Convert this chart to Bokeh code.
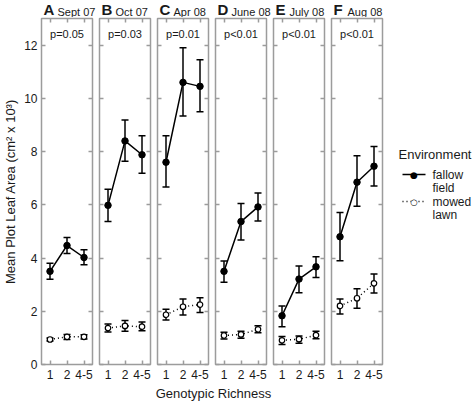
from bokeh.plotting import figure
from bokeh.models import (FactorRange, Range1d, FixedTicker, LinearAxis, CategoricalAxis,
                          ColumnDataSource, Whisker, TeeHead, Label, Arrow)
from bokeh.layouts import row, column
from bokeh.embed import file_html
from bokeh.resources import INLINE

# ---------------- data ----------------
panel_letters = ["A", "B", "C", "D", "E", "F"]
panel_dates = ["Sept 07", "Oct 07", "Apr 08", "June 08", "July 08", "Aug 08"]
p_values = ["p=0.05", "p=0.03", "p=0.01", "p<0.01", "p<0.01", "p<0.01"]
richness_labels = ["1", "2", "4-5"]
y_ticks = [0, 2, 4, 6, 8, 10, 12]
env_labels = [["fallow", "field"], ["mowed", "lawn"]]
legend_title = "Environment"
x_title = "Genotypic Richness"
y_title = "Mean Plot Leaf Area (cm\u00b2 x 10\u00b3)"

fallow_mean = [[3.50, 4.47, 4.02], [5.98, 8.40, 7.88], [7.60, 10.60, 10.45],
               [3.50, 5.37, 5.92], [1.83, 3.21, 3.67], [4.80, 6.85, 7.45]]
fallow_lower = [[3.20, 4.17, 3.75], [5.37, 7.64, 7.19], [6.67, 9.34, 9.50],
                [3.09, 4.68, 5.39], [1.42, 2.70, 3.27], [3.90, 5.95, 6.71]]
fallow_upper = [[3.80, 4.77, 4.31], [6.58, 9.19, 8.59], [8.59, 11.90, 11.45],
                [3.89, 6.05, 6.44], [2.20, 3.70, 4.05], [5.71, 7.84, 8.19]]
mowed_mean = [[0.94, 1.04, 1.04], [1.37, 1.45, 1.42], [1.87, 2.17, 2.25],
              [1.09, 1.13, 1.32], [0.91, 0.95, 1.10], [2.20, 2.49, 3.05]]
mowed_lower = [[0.88, 0.94, 0.96], [1.22, 1.25, 1.27], [1.67, 1.86, 1.95],
               [0.96, 0.99, 1.19], [0.75, 0.80, 0.97], [1.90, 2.11, 2.69]]
mowed_upper = [[1.00, 1.13, 1.12], [1.52, 1.65, 1.60], [2.08, 2.46, 2.51],
               [1.21, 1.25, 1.46], [1.05, 1.07, 1.25], [2.46, 2.85, 3.40]]

FONT = "Liberation Sans"
GRAY = "#9c9c9c"
TXT = "#1a1a1a"
FRAME_W, FRAME_H = 51, 346
LEFT0, GAP_L, GAP_R = 41, 4, 3
STRIP_H, TOP, BOTTOM = 17, 1, 20
PITCH = GAP_L + FRAME_W + GAP_R
ROW_W = LEFT0 + FRAME_W + GAP_R + 5 * PITCH
PANEL_H = TOP + FRAME_H + BOTTOM


def blank_fig(w, h):
    f = figure(x_range=Range1d(0, 1), y_range=Range1d(0, 1),
               frame_width=w, frame_height=h,
               min_border_left=0, min_border_right=0, min_border_top=0, min_border_bottom=0,
               x_axis_location=None, y_axis_location=None,
               output_backend="svg", toolbar_location=None)
    f.outline_line_color = None
    f.xgrid.visible = False
    f.ygrid.visible = False
    return f


def text(fig, x, y, s, size, color=TXT, font=FONT, style="normal",
         align="left", baseline="middle"):
    fig.add_layout(Label(x=x, y=y, x_units="screen", y_units="screen", text=s,
                         text_font=font, text_font_size=size, text_font_style=style,
                         text_color=color, text_align=align, text_baseline=baseline))


def style_axis(ax, show_labels):
    ax.axis_line_color = None
    ax.major_tick_line_color = GRAY
    ax.major_tick_line_width = 1.5
    ax.major_tick_in = 4
    ax.major_tick_out = 0
    ax.minor_tick_line_color = None
    ax.major_label_text_font = FONT
    ax.major_label_text_color = TXT
    if show_labels:
        ax.major_label_text_font_size = "12px"
        ax.major_label_standoff = 4
    else:
        ax.major_label_text_font_size = "0px"
        ax.major_label_text_alpha = 0
        ax.major_label_standoff = 0


def make_panel(i):
    first = i == 0
    p = figure(x_range=FactorRange(factors=richness_labels, range_padding=0),
               y_range=Range1d(0, 13),
               frame_width=FRAME_W, frame_height=FRAME_H,
               min_border_left=LEFT0 if first else GAP_L, min_border_right=GAP_R,
               min_border_top=TOP, min_border_bottom=BOTTOM,
               x_axis_location=None, y_axis_location=None,
               output_backend="svg", toolbar_location=None)
    p.xgrid.visible = False
    p.ygrid.visible = False
    p.outline_line_color = GRAY
    p.outline_line_width = 1.5

    below = CategoricalAxis()
    style_axis(below, True)
    below.major_label_standoff = 5
    p.add_layout(below, "below")
    above = CategoricalAxis()
    style_axis(above, False)
    p.add_layout(above, "above")
    left = LinearAxis(ticker=FixedTicker(ticks=y_ticks))
    style_axis(left, first)
    if first:
        left.axis_label = y_title
        left.axis_label_text_font = FONT
        left.axis_label_text_font_size = "13px"
        left.axis_label_text_font_style = "normal"
        left.axis_label_text_color = TXT
        left.axis_label_standoff = 3
    p.add_layout(left, "left")
    right = LinearAxis(ticker=FixedTicker(ticks=y_ticks))
    style_axis(right, False)
    p.add_layout(right, "right")

    src = ColumnDataSource(dict(x=richness_labels,
                                fm=fallow_mean[i], fl=fallow_lower[i], fu=fallow_upper[i],
                                mm=mowed_mean[i], ml=mowed_lower[i], mu=mowed_upper[i]))
    for lo, hi in (("fl", "fu"), ("ml", "mu")):
        w = Whisker(source=src, base="x", lower=lo, upper=hi,
                    line_color="black", line_width=1.5, level="underlay",
                    upper_head=TeeHead(size=7, line_width=1.5, line_color="black"),
                    lower_head=TeeHead(size=7, line_width=1.5, line_color="black"))
        p.add_layout(w)
    p.line("x", "fm", source=src, line_color="black", line_width=1.5)
    p.line("x", "mm", source=src, line_color="black", line_width=1.5, line_dash="1 3")
    p.scatter("x", "fm", source=src, marker="circle", size=6.5,
              fill_color="black", line_color="black")
    p.scatter("x", "mm", source=src, marker="circle", size=5.5,
              fill_color="white", line_color="black", line_width=1.2)

    text(p, FRAME_W / 2, FRAME_H - 15, p_values[i], "11px", align="center")
    return p


panels = [make_panel(i) for i in range(6)]

# ---------------- panel titles strip ----------------
strip = blank_fig(474, STRIP_H)
for i in range(6):
    frame_left = LEFT0 + i * PITCH
    text(strip, frame_left + 2, 0, panel_letters[i], "15px", style="bold", baseline="bottom")
    text(strip, frame_left + 16, 0, panel_dates[i], "11px", baseline="bottom")

# ---------------- legend (drawn as annotations in its own box) ----------------
lg = blank_fig(474 - ROW_W, PANEL_H)
TITLE_Y, ROW1, ROW2, LINE_H = 231, 211, 184, 14
SW_L, SW_R, TX = 17, 40, 47
SW_C = (SW_L + SW_R) / 2
text(lg, 13, TITLE_Y, legend_title, "13px")
lg.add_layout(Arrow(x_start=SW_L, y_start=ROW1, x_end=SW_R, y_end=ROW1,
                    start_units="screen", end_units="screen", start=None, end=None,
                    line_color="black", line_width=1.5))
text(lg, SW_C, ROW1, "\u25cf", "9px", color="black", font="DejaVu Sans", align="center")
lg.add_layout(Arrow(x_start=SW_L, y_start=ROW2, x_end=SW_R, y_end=ROW2,
                    start_units="screen", end_units="screen", start=None, end=None,
                    line_color="black", line_width=1.5, line_dash="1 3"))
text(lg, SW_C, ROW2, "\u25cf", "8.5px", color="white", font="DejaVu Sans", align="center")
text(lg, SW_C, ROW2, "\u25cb", "8.5px", color="black", font="DejaVu Sans", align="center")
for (first_line, second_line), y in zip(env_labels, (ROW1, ROW2)):
    text(lg, TX, y, first_line, "12px")
    text(lg, TX, y - LINE_H + 1, second_line, "12px")

# ---------------- shared x title ----------------
xl = blank_fig(474, 402 - STRIP_H - PANEL_H)
text(xl, 213, 9, x_title, "13px", align="center")

layout = column(strip, row(panels + [lg]), xl)
open("out.html", "w").write(file_html(layout, INLINE))
